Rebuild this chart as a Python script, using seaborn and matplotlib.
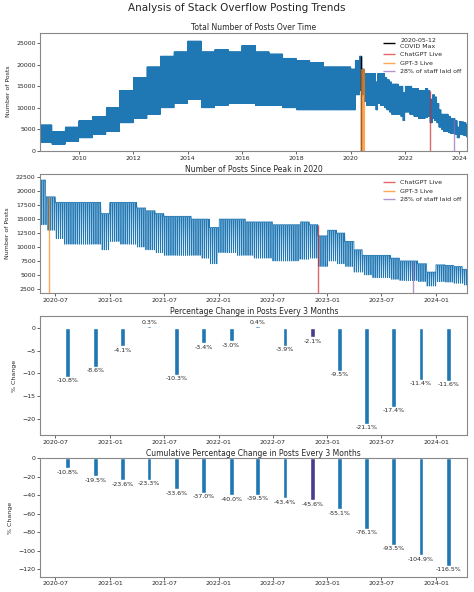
import numpy as np
import pandas as pd
import matplotlib
matplotlib.use('Agg')
import matplotlib.pyplot as plt
import seaborn as sns

# envelope of daily posts per period (weekday high, weekend low)
period_start = ['2008-08-01', '2009-01-01', '2009-07-01', '2010-01-01', '2010-07-01', '2011-01-01',
                '2011-07-01', '2012-01-01', '2012-07-01', '2013-01-01', '2013-07-01', '2014-01-01',
                '2014-07-01', '2015-01-01', '2015-07-01', '2016-01-01', '2016-07-01', '2017-01-01',
                '2017-07-01', '2018-01-01', '2018-07-01', '2019-01-01', '2019-07-01', '2020-01-01',
                '2020-03-01', '2020-05-01', '2020-06-01', '2020-07-01', '2020-08-01', '2020-09-01',
                '2020-10-01', '2020-11-01', '2020-12-01', '2021-01-01', '2021-02-01', '2021-03-01',
                '2021-04-01', '2021-05-01', '2021-06-01', '2021-07-01', '2021-08-01', '2021-09-01',
                '2021-10-01', '2021-11-01', '2021-12-01', '2022-01-01', '2022-02-01', '2022-03-01',
                '2022-04-01', '2022-05-01', '2022-06-01', '2022-07-01', '2022-08-01', '2022-09-01',
                '2022-10-01', '2022-11-01', '2022-12-01', '2023-01-01', '2023-02-01', '2023-03-01',
                '2023-04-01', '2023-05-01', '2023-06-01', '2023-07-01', '2023-08-01', '2023-09-01',
                '2023-10-01', '2023-11-01', '2023-12-01', '2024-01-01', '2024-02-01', '2024-03-01',
                '2024-04-01']
posts_high = [6000, 4500, 5500, 7000, 8000, 10000, 14000, 17000, 19500, 22000, 23000, 25500,
              23000, 23500, 23000, 24500, 23000, 22500, 21500, 21000, 20500, 19500, 19500, 19000,
              21000, 22000, 19000, 18000, 18000, 18000, 18000, 18000, 16000, 18000, 18000, 18000,
              17000, 16500, 16000, 15500, 15500, 15500, 15000, 15000, 13500, 15000, 15000, 15000,
              14500, 14500, 14500, 14000, 14000, 14000, 14500, 14000, 12000, 13000, 12500, 11000,
              9500, 8500, 8500, 8500, 8000, 7500, 7500, 7000, 5500, 6800, 6700, 6500, 6000]
posts_low = [2000, 1500, 2200, 3000, 3800, 4500, 6500, 7500, 8500, 10000, 11000, 12000,
             10000, 10500, 11000, 11000, 10500, 10500, 10000, 9500, 9500, 9500, 9500, 9500,
             13000, 14000, 13000, 11500, 10500, 10500, 10500, 10500, 9500, 11000, 10500, 10500,
             10000, 9500, 9000, 8500, 8500, 8500, 8500, 8000, 7000, 9000, 9000, 8500,
             8500, 8000, 8000, 7500, 7500, 7500, 7800, 8000, 6500, 7500, 7000, 6500,
             5500, 5000, 4500, 4500, 4200, 4000, 4000, 3800, 3000, 3800, 3700, 3500, 3200]

event_dates = {'ChatGPT Live': '2022-11-30', 'GPT-3 Live': '2020-06-11', '28% of staff laid off': '2023-10-16'}
event_colors = {'ChatGPT Live': 'tab:red', 'GPT-3 Live': 'tab:orange', '28% of staff laid off': 'tab:purple'}
covid_max = '2020-05-12'

quarter_dates = ['2020-08-12', '2020-11-12', '2021-02-12', '2021-05-12', '2021-08-12', '2021-11-12',
                 '2022-02-12', '2022-05-12', '2022-08-12', '2022-11-12', '2023-02-12', '2023-05-12',
                 '2023-08-12', '2023-11-12', '2024-02-12']
pct_change = [-10.8, -8.6, -4.1, 0.3, -10.3, -3.4, -3.0, 0.4, -3.9, -2.1, -9.5, -21.1, -17.4, -11.4, -11.6]
cum_change = [-10.8, -19.5, -23.6, -23.3, -33.6, -37.0, -40.0, -39.5, -43.4, -45.6, -55.1, -76.1, -93.5, -104.9, -116.5]

# daily series: weekdays take the high level, weekends the low level of their period
days = pd.date_range('2008-08-01', '2024-04-15', freq='D')
periods = pd.DataFrame({'start': pd.to_datetime(period_start), 'hi': posts_high, 'lo': posts_low})
idx = np.searchsorted(periods['start'].values, days.values, side='right') - 1
weekend = days.dayofweek >= 5
posts = np.where(weekend, periods['lo'].values[idx], periods['hi'].values[idx])
df = pd.DataFrame({'date': days, 'posts': posts})

sns.set_style('ticks')
fig, axes = plt.subplots(4, 1, figsize=(4.74, 5.92), dpi=100)
fig.suptitle('Analysis of Stack Overflow Posting Trends', fontsize=7.5, y=0.995)
small = 4.5


def value_at(d):
    return df.loc[df['date'] == pd.Timestamp(d), 'posts'].iloc[0]


# panel 1
ax = axes[0]
sns.lineplot(data=df, x='date', y='posts', ax=ax, linewidth=0.6, color='tab:blue')
ax.vlines(pd.Timestamp(covid_max), 0, value_at(covid_max), color='black', lw=1, label='2020-05-12\nCOVID Max')
for name, d in event_dates.items():
    lw = 3 if name == 'GPT-3 Live' else 1
    ax.vlines(pd.Timestamp(d), 0, value_at(d), color=event_colors[name], lw=lw, alpha=0.7, label=name)
ax.set_xlim(pd.Timestamp('2008-08-01'), pd.Timestamp('2024-04-15'))
ax.set_ylim(0, 27500)
ax.set_title('Total Number of Posts Over Time', fontsize=5.5, pad=2)
leg = ax.legend(fontsize=small, frameon=False, loc='upper right')
for line in leg.get_lines():
    line.set_linewidth(1)

# panel 2
ax = axes[1]
sub = df[df['date'] >= covid_max]
sns.lineplot(data=sub, x='date', y='posts', ax=ax, linewidth=0.6, color='tab:blue')
for name, d in event_dates.items():
    ax.vlines(pd.Timestamp(d), 0, value_at(d), color=event_colors[name], lw=1, alpha=0.7, label=name)
ax.set_xlim(pd.Timestamp(covid_max), pd.Timestamp('2024-04-15'))
ax.set_ylim(1800, 23000)
ax.set_title('Number of Posts Since Peak in 2020', fontsize=5.5, pad=2)
ax.legend(fontsize=small, frameon=False, loc='upper right')

# panels 3 and 4
qd = pd.to_datetime(quarter_dates)
for ax, vals, title in [(axes[2], pct_change, 'Percentage Change in Posts Every 3 Months'),
                        (axes[3], cum_change, 'Cumulative Percentage Change in Posts Every 3 Months')]:
    colors = ['darkslateblue' if d == pd.Timestamp('2022-11-12') else 'tab:blue' for d in qd]
    ax.bar(qd, vals, width=16, color=colors)
    for d, v in zip(qd, vals):
        ax.annotate(f'{v:.1f}%', (d, v), xytext=(0, 1 if v > 0 else -1), textcoords='offset points',
                    ha='center', va='bottom' if v > 0 else 'top', fontsize=small)
    ax.set_xlim(pd.Timestamp('2020-05-12'), pd.Timestamp('2024-04-15'))
    ax.set_title(title, fontsize=5.5, pad=2)
    ax.set_ylabel('% Change', fontsize=small)
axes[2].set_ylim(-23.5, 2.5)
axes[3].set_ylim(-128, 0)

for ax in axes[:2]:
    ax.set_ylabel('Number of Posts', fontsize=small)
for ax in axes:
    ax.set_xlabel('')
    ax.tick_params(labelsize=small, length=2, width=0.5, pad=1.5)
    for s in ax.spines.values():
        s.set_linewidth(0.8)
        s.set_color('#888888')
for ax in axes[1:]:
    ax.xaxis.set_major_formatter(matplotlib.dates.DateFormatter('%Y-%m'))
    ax.xaxis.set_major_locator(matplotlib.dates.MonthLocator(bymonth=[1, 7]))

plt.tight_layout(pad=0.4, h_pad=0.3)
plt.subplots_adjust(top=0.945)
plt.savefig('out.png', dpi=100)
plt.close()
